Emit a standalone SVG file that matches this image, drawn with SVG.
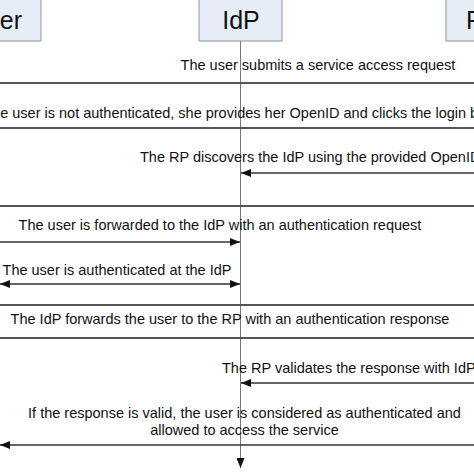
<svg xmlns="http://www.w3.org/2000/svg" width="474" height="474" viewBox="0 0 474 474">
<style>
.box{fill:#e7edf6;stroke:#8f959c;stroke-width:1}
.lbl{font-family:"Liberation Sans",Arial,sans-serif;font-size:25px;fill:#111}
.t{font-family:"Liberation Sans",Arial,sans-serif;font-size:14.5px;fill:#111}
.sep{stroke:#555;stroke-width:2}
.msg{stroke:#333;stroke-width:1.5;fill:none}
.life{stroke:#777;stroke-width:1;fill:none}
</style>
<defs>
<marker id="ah" viewBox="0 0 10 8" refX="10" refY="4" markerWidth="10" markerHeight="8" markerUnits="userSpaceOnUse" orient="auto-start-reverse">
<path d="M0,0 L10,4 L0,8 Z" fill="#111"/>
</marker>
</defs>
<rect width="474" height="474" fill="#fff"/>
<g id="user">
<rect class="box" x="-50" y="-1" width="91" height="42"/>
<text class="lbl" x="22" y="29" text-anchor="end">User</text>
</g>
<g id="idp">
<rect class="box" x="199" y="-1" width="83" height="42"/>
<text class="lbl" x="241" y="29" text-anchor="middle">IdP</text>
</g>
<g id="rp">
<rect class="box" x="446" y="-1" width="83" height="42"/>
<text class="lbl" x="466" y="29">RP</text>
</g>
<g id="connectors">
<line class="life" x1="240.5" y1="41" x2="240.5" y2="468" marker-end="url(#ah)"/>
<line class="sep" x1="0" y1="83" x2="474" y2="83"/>
<line class="sep" x1="0" y1="128" x2="474" y2="128"/>
<line class="msg" x1="474" y1="173" x2="241" y2="173" marker-end="url(#ah)"/>
<line class="sep" x1="0" y1="206" x2="474" y2="206"/>
<line class="msg" x1="0" y1="242" x2="240" y2="242" marker-end="url(#ah)"/>
<line class="msg" x1="0" y1="284" x2="240" y2="284" marker-start="url(#ah)" marker-end="url(#ah)"/>
<line class="sep" x1="0" y1="305" x2="474" y2="305"/>
<line class="sep" x1="0" y1="338" x2="474" y2="338"/>
<line class="msg" x1="474" y1="383" x2="241" y2="383" marker-end="url(#ah)"/>
<line class="msg" x1="474" y1="445" x2="0" y2="445" marker-end="url(#ah)"/>
</g>
<g id="labels">
<text class="t" x="318" y="70" text-anchor="middle">The user submits a service access request</text>
<text class="t" x="-24" y="118">If the user is not authenticated, she provides her OpenID and clicks the login button</text>
<text class="t" x="140" y="162">The RP discovers the IdP using the provided OpenID</text>
<text class="t" x="220" y="230" text-anchor="middle">The user is forwarded to the IdP with an authentication request</text>
<text class="t" x="117" y="275" text-anchor="middle">The user is authenticated at the IdP</text>
<text class="t" x="230" y="324" text-anchor="middle">The IdP forwards the user to the RP with an authentication response</text>
<text class="t" x="222" y="373">The RP validates the response with IdP</text>
<text class="t" x="244.5" y="418" text-anchor="middle">If the response is valid, the user is considered as authenticated and</text>
<text class="t" x="244.5" y="435" text-anchor="middle">allowed to access the service</text>
</g>
</svg>
